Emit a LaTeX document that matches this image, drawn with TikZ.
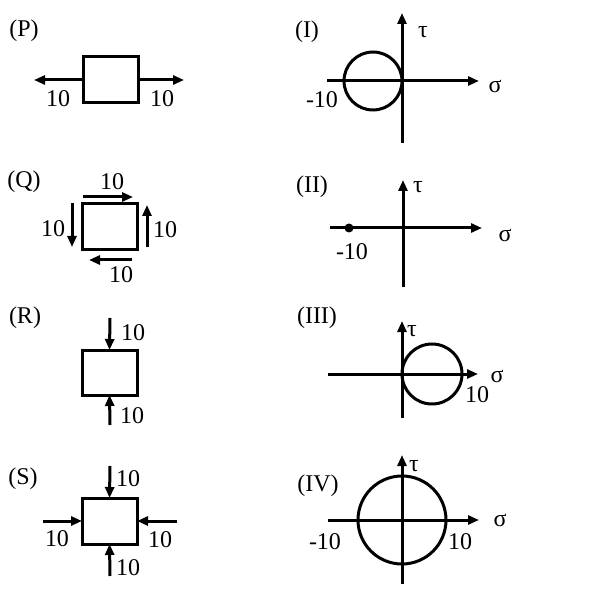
\documentclass[tikz,border=0pt]{standalone}
\usepackage{fontspec}
\setmainfont{Liberation Serif}
\usetikzlibrary{arrows.meta}
\begin{document}
\begin{tikzpicture}[x=1pt,y=-1pt, line width=3pt,
 lbl/.style={font=\fontsize{24}{28}\selectfont, inner sep=0pt},
 arr/.style={-{Triangle[length=11pt,width=9pt]}},
 boxn/.style={draw, minimum width=55pt, minimum height=46pt, inner sep=0pt, outer sep=0pt},
 circ/.style={draw, circle, inner sep=0pt, outer sep=0pt}]
\useasboundingbox (0,0) rectangle (600,596);
% ---------- P ----------
\node[lbl] (Plab) at (24,31) {(P)};
\node[boxn] (Pbox) at (110.5,80) {};
\coordinate (PL) at (34,80);
\coordinate (PR) at (184,80);
\draw[arr] (Pbox.west) -- (PL);
\draw[arr] (Pbox.east) -- (PR);
\node[lbl] (P10a) at (58,99) {10};
\node[lbl] (P10b) at (162,99) {10};
% ---------- Q ----------
\node[lbl] (Qlab) at (24,182) {(Q)};
\node[boxn] (Qbox) at (109.5,226.5) {};
\coordinate (Qt1) at (83,197); \coordinate (Qt2) at (133,197);
\coordinate (Qr1) at (147,247); \coordinate (Qr2) at (147,205);
\coordinate (Ql1) at (72,203); \coordinate (Ql2) at (72,247);
\coordinate (Qb1) at (132,260); \coordinate (Qb2) at (89,260);
\draw[arr] (Qt1) -- (Qt2);
\draw[arr] (Qr1) -- (Qr2);
\draw[arr] (Ql1) -- (Ql2);
\draw[arr] (Qb1) -- (Qb2);
\node[lbl] (Q10t) at (112,182) {10};
\node[lbl] (Q10r) at (165,230) {10};
\node[lbl] (Q10l) at (53,229) {10};
\node[lbl] (Q10b) at (121,275) {10};
% ---------- R ----------
\node[lbl] (Rlab) at (25,318) {(R)};
\node[boxn, minimum height=45pt] (Rbox) at (109.5,372.5) {};
\coordinate (RT) at (110,318);
\coordinate (RB) at (110,425);
\draw[arr] (RT) -- (Rbox.north);
\draw[arr] (RB) -- (Rbox.south);
\node[lbl] (R10t) at (133,333) {10};
\node[lbl] (R10b) at (132,416) {10};
% ---------- S ----------
\node[lbl] (Slab) at (23,479) {(S)};
\node[boxn] (Sbox) at (109.5,521) {};
\coordinate (ST) at (110,466);
\coordinate (SB) at (110,576);
\coordinate (SL) at (43,521);
\coordinate (SR) at (177,521);
\draw[arr] (ST) -- (Sbox.north);
\draw[arr] (SB) -- (Sbox.south);
\draw[arr] (SL) -- (Sbox.west);
\draw[arr] (SR) -- (Sbox.east);
\node[lbl] (S10t) at (128,479) {10};
\node[lbl] (S10b) at (128,568) {10};
\node[lbl] (S10l) at (57,539) {10};
\node[lbl] (S10r) at (160,540) {10};
% ---------- I ----------
\node[lbl] (Ilab) at (307,32) {(I)};
\coordinate (Iv1) at (402,143); \coordinate (Iv2) at (402,13);
\coordinate (Ih1) at (327,81); \coordinate (Ih2) at (479,81);
\draw[arr] (Iv1) -- (Iv2);
\draw[arr] (Ih1) -- (Ih2);
\node[circ, minimum size=58pt] (Icirc) at (373,81) {};
\node[lbl] (Itau) at (423,32) {τ};
\node[lbl] (Isig) at (495,86) {σ};
\node[lbl] (Im10) at (322,100) {-10};
% ---------- II ----------
\node[lbl] (IIlab) at (312,187) {(II)};
\coordinate (IIv1) at (403,287); \coordinate (IIv2) at (403,180);
\coordinate (IIh1) at (330,228); \coordinate (IIh2) at (482,228);
\draw[arr] (IIv1) -- (IIv2);
\draw[arr] (IIh1) -- (IIh2);
\node[circle, fill, inner sep=0pt, minimum size=9pt] (IIdot) at (349,228) {};
\node[lbl] (IIm10) at (352,252) {-10};
\node[lbl] (IItau) at (418,187) {τ};
\node[lbl] (IIsig) at (505,235) {σ};
% ---------- III ----------
\node[lbl] (IIIlab) at (317,318) {(III)};
\coordinate (IIIv1) at (402,418); \coordinate (IIIv2) at (402,321);
\coordinate (IIIh1) at (328,374); \coordinate (IIIh2) at (478,374);
\draw[arr] (IIIv1) -- (IIIv2);
\draw[arr] (IIIh1) -- (IIIh2);
\node[circ, minimum size=60pt] (IIIcirc) at (432,374) {};
\node[lbl] (IIItau) at (412,331) {τ};
\node[lbl] (IIIsig) at (497,376) {σ};
\node[lbl] (III10) at (477,395) {10};
% ---------- IV ----------
\node[lbl] (IVlab) at (318,486) {(IV)};
\coordinate (IVv1) at (402,584); \coordinate (IVv2) at (402,455);
\coordinate (IVh1) at (328,520); \coordinate (IVh2) at (479,520);
\draw[arr] (IVv1) -- (IVv2);
\draw[arr] (IVh1) -- (IVh2);
\node[circ, minimum size=88pt] (IVcirc) at (402,520) {};
\node[lbl] (IVtau) at (414,466) {τ};
\node[lbl] (IVsig) at (500,520) {σ};
\node[lbl] (IVm10) at (325,542) {-10};
\node[lbl] (IV10) at (460,542) {10};
\end{tikzpicture}
\end{document}
